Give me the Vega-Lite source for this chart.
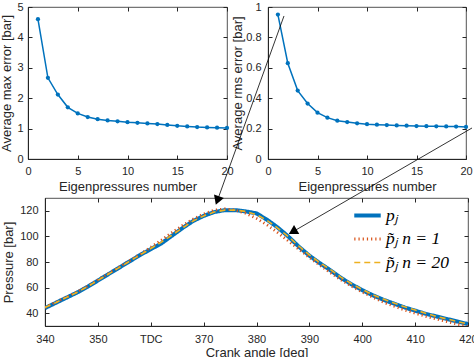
{
  "$schema": "https://vega.github.io/schema/vega-lite/v6.json",
  "background": "white",
  "padding": {"left": 0, "top": 0, "right": 5, "bottom": 2},
  "config": {
    "font": "Liberation Sans",
    "view": {"stroke": "#262626", "strokeWidth": 0.8},
    "axis": {
      "grid": false,
      "domainColor": "#262626",
      "tickColor": "#262626",
      "labelColor": "#262626",
      "titleColor": "#262626",
      "labelFont": "Liberation Sans",
      "titleFont": "Liberation Sans",
      "labelFontSize": 11,
      "titleFontSize": 13,
      "titleFontWeight": "normal",
      "tickSize": -4,
      "tickCount": 20,
      "labelPadding": 10,
      "titlePadding": 3,
      "labelOverlap": false,
      "labelFlush": false
    }
  },
  "datasets": {
    "errs": [
      {"n": 1, "maxerr": 4.6, "rmserr": 0.95},
      {"n": 2, "maxerr": 2.67, "rmserr": 0.63},
      {"n": 3, "maxerr": 2.12, "rmserr": 0.45},
      {"n": 4, "maxerr": 1.7, "rmserr": 0.365},
      {"n": 5, "maxerr": 1.5, "rmserr": 0.305},
      {"n": 6, "maxerr": 1.38, "rmserr": 0.272},
      {"n": 7, "maxerr": 1.31, "rmserr": 0.252},
      {"n": 8, "maxerr": 1.27, "rmserr": 0.243},
      {"n": 9, "maxerr": 1.24, "rmserr": 0.235},
      {"n": 10, "maxerr": 1.21, "rmserr": 0.229},
      {"n": 11, "maxerr": 1.19, "rmserr": 0.226},
      {"n": 12, "maxerr": 1.17, "rmserr": 0.223},
      {"n": 13, "maxerr": 1.15, "rmserr": 0.221},
      {"n": 14, "maxerr": 1.12, "rmserr": 0.219},
      {"n": 15, "maxerr": 1.09, "rmserr": 0.217},
      {"n": 16, "maxerr": 1.07, "rmserr": 0.216},
      {"n": 17, "maxerr": 1.05, "rmserr": 0.215},
      {"n": 18, "maxerr": 1.04, "rmserr": 0.214},
      {"n": 19, "maxerr": 1.03, "rmserr": 0.213},
      {"n": 20, "maxerr": 1.02, "rmserr": 0.211}
    ],
    "pressure": [
      {"angle": 340, "series": "p", "p": 44},
      {"angle": 342, "series": "p", "p": 48},
      {"angle": 344, "series": "p", "p": 52},
      {"angle": 346, "series": "p", "p": 56},
      {"angle": 348, "series": "p", "p": 60.5},
      {"angle": 350, "series": "p", "p": 65.5},
      {"angle": 352, "series": "p", "p": 70.5},
      {"angle": 354, "series": "p", "p": 75.5},
      {"angle": 356, "series": "p", "p": 80.5},
      {"angle": 358, "series": "p", "p": 85.5},
      {"angle": 360, "series": "p", "p": 90},
      {"angle": 362, "series": "p", "p": 94.5},
      {"angle": 364, "series": "p", "p": 100.5},
      {"angle": 366, "series": "p", "p": 106.5},
      {"angle": 368, "series": "p", "p": 112},
      {"angle": 370, "series": "p", "p": 116},
      {"angle": 372, "series": "p", "p": 119},
      {"angle": 374, "series": "p", "p": 120.5},
      {"angle": 376, "series": "p", "p": 120.5},
      {"angle": 378, "series": "p", "p": 119.5},
      {"angle": 380, "series": "p", "p": 118},
      {"angle": 382, "series": "p", "p": 113},
      {"angle": 384, "series": "p", "p": 107},
      {"angle": 386, "series": "p", "p": 100},
      {"angle": 388, "series": "p", "p": 92},
      {"angle": 390, "series": "p", "p": 85},
      {"angle": 392, "series": "p", "p": 79},
      {"angle": 394, "series": "p", "p": 73.5},
      {"angle": 396, "series": "p", "p": 67.5},
      {"angle": 398, "series": "p", "p": 62.5},
      {"angle": 400, "series": "p", "p": 58},
      {"angle": 402, "series": "p", "p": 54},
      {"angle": 404, "series": "p", "p": 50.5},
      {"angle": 406, "series": "p", "p": 47.5},
      {"angle": 408, "series": "p", "p": 44.5},
      {"angle": 410, "series": "p", "p": 42},
      {"angle": 412, "series": "p", "p": 39.5},
      {"angle": 414, "series": "p", "p": 37.5},
      {"angle": 416, "series": "p", "p": 35.5},
      {"angle": 418, "series": "p", "p": 33.5},
      {"angle": 420, "series": "p", "p": 31.5},
      {"angle": 340, "series": "n1", "p": 44.5},
      {"angle": 342, "series": "n1", "p": 48.5},
      {"angle": 344, "series": "n1", "p": 52.5},
      {"angle": 346, "series": "n1", "p": 56.5},
      {"angle": 348, "series": "n1", "p": 61},
      {"angle": 350, "series": "n1", "p": 66},
      {"angle": 352, "series": "n1", "p": 71},
      {"angle": 354, "series": "n1", "p": 76},
      {"angle": 356, "series": "n1", "p": 81},
      {"angle": 358, "series": "n1", "p": 86},
      {"angle": 360, "series": "n1", "p": 91.5},
      {"angle": 362, "series": "n1", "p": 97},
      {"angle": 364, "series": "n1", "p": 103},
      {"angle": 366, "series": "n1", "p": 108.5},
      {"angle": 368, "series": "n1", "p": 113.5},
      {"angle": 370, "series": "n1", "p": 117.5},
      {"angle": 372, "series": "n1", "p": 120.5},
      {"angle": 374, "series": "n1", "p": 121.5},
      {"angle": 376, "series": "n1", "p": 120.5},
      {"angle": 378, "series": "n1", "p": 118},
      {"angle": 380, "series": "n1", "p": 114},
      {"angle": 382, "series": "n1", "p": 109},
      {"angle": 384, "series": "n1", "p": 103},
      {"angle": 386, "series": "n1", "p": 96.5},
      {"angle": 388, "series": "n1", "p": 90},
      {"angle": 390, "series": "n1", "p": 83.5},
      {"angle": 392, "series": "n1", "p": 77.5},
      {"angle": 394, "series": "n1", "p": 71.5},
      {"angle": 396, "series": "n1", "p": 66},
      {"angle": 398, "series": "n1", "p": 61},
      {"angle": 400, "series": "n1", "p": 56.5},
      {"angle": 402, "series": "n1", "p": 52.5},
      {"angle": 404, "series": "n1", "p": 48.5},
      {"angle": 406, "series": "n1", "p": 45.5},
      {"angle": 408, "series": "n1", "p": 42.5},
      {"angle": 410, "series": "n1", "p": 40},
      {"angle": 412, "series": "n1", "p": 37.5},
      {"angle": 414, "series": "n1", "p": 35.5},
      {"angle": 416, "series": "n1", "p": 33.5},
      {"angle": 418, "series": "n1", "p": 31.5},
      {"angle": 420, "series": "n1", "p": 29.5},
      {"angle": 340, "series": "n20", "p": 44.5},
      {"angle": 342, "series": "n20", "p": 48.2},
      {"angle": 344, "series": "n20", "p": 52.2},
      {"angle": 346, "series": "n20", "p": 56.2},
      {"angle": 348, "series": "n20", "p": 60.7},
      {"angle": 350, "series": "n20", "p": 65.6},
      {"angle": 352, "series": "n20", "p": 70.6},
      {"angle": 354, "series": "n20", "p": 75.6},
      {"angle": 356, "series": "n20", "p": 80.6},
      {"angle": 358, "series": "n20", "p": 85.6},
      {"angle": 360, "series": "n20", "p": 90.5},
      {"angle": 362, "series": "n20", "p": 95.5},
      {"angle": 364, "series": "n20", "p": 101},
      {"angle": 366, "series": "n20", "p": 106.5},
      {"angle": 368, "series": "n20", "p": 112},
      {"angle": 370, "series": "n20", "p": 116},
      {"angle": 372, "series": "n20", "p": 119},
      {"angle": 374, "series": "n20", "p": 120.5},
      {"angle": 376, "series": "n20", "p": 120.5},
      {"angle": 378, "series": "n20", "p": 119.5},
      {"angle": 380, "series": "n20", "p": 117},
      {"angle": 382, "series": "n20", "p": 112.5},
      {"angle": 384, "series": "n20", "p": 106.5},
      {"angle": 386, "series": "n20", "p": 100},
      {"angle": 388, "series": "n20", "p": 92.5},
      {"angle": 390, "series": "n20", "p": 85.5},
      {"angle": 392, "series": "n20", "p": 79.5},
      {"angle": 394, "series": "n20", "p": 74},
      {"angle": 396, "series": "n20", "p": 68},
      {"angle": 398, "series": "n20", "p": 63},
      {"angle": 400, "series": "n20", "p": 58.5},
      {"angle": 402, "series": "n20", "p": 54.5},
      {"angle": 404, "series": "n20", "p": 51},
      {"angle": 406, "series": "n20", "p": 48},
      {"angle": 408, "series": "n20", "p": 45},
      {"angle": 410, "series": "n20", "p": 42.5},
      {"angle": 412, "series": "n20", "p": 40},
      {"angle": 414, "series": "n20", "p": 37.5},
      {"angle": 416, "series": "n20", "p": 35.5},
      {"angle": 418, "series": "n20", "p": 33.5},
      {"angle": 420, "series": "n20", "p": 31.5}
    ],
    "arrows": [
      {"arrow": "a1", "x0": 385.2, "y0": 272.2, "x1": 372.7, "y1": 129.2},
      {"arrow": "a2", "x0": 420.76, "y0": 184.7, "x1": 387.1, "y1": 104.2}
    ]
  },
  "concat": [
    {
      "spacing": -3,
      "hconcat": [
        {
          "width": 199,
          "height": 152,
          "data": {"name": "errs"},
          "resolve": {"axis": {"x": "independent", "y": "independent"}},
          "layer": [
            {"mark": {"type": "line", "color": "#0072BD", "strokeWidth": 1.5}, "encoding": {
              "x": {"field": "n", "type": "quantitative", "scale": {"domain": [0, 20]}, "axis": {"values": [0, 5, 10, 15, 20], "title": "Eigenpressures number", "titlePadding": 4}},
              "y": {"field": "maxerr", "type": "quantitative", "scale": {"domain": [0, 5]}, "axis": {"values": [0, 1, 2, 3, 4, 5], "format": "~g", "title": "Average max error [bar]", "labelPadding": 9}}
            }},
            {"mark": {"type": "point", "filled": true, "color": "#0072BD", "size": 18, "opacity": 1}, "encoding": {
              "x": {"field": "n", "type": "quantitative", "axis": {"orient": "top", "values": [0, 5, 10, 15, 20], "labels": false, "domain": false, "title": null}},
              "y": {"field": "maxerr", "type": "quantitative", "axis": {"orient": "right", "values": [0, 1, 2, 3, 4, 5], "labels": false, "domain": false, "title": null}}
            }}
          ]
        },
        {
          "width": 198,
          "height": 152,
          "data": {"name": "errs"},
          "resolve": {"axis": {"x": "independent", "y": "independent"}},
          "layer": [
            {"mark": {"type": "line", "color": "#0072BD", "strokeWidth": 1.5}, "encoding": {
              "x": {"field": "n", "type": "quantitative", "scale": {"domain": [0, 20]}, "axis": {"values": [0, 5, 10, 15, 20], "title": "Eigenpressures number", "titlePadding": 4}},
              "y": {"field": "rmserr", "type": "quantitative", "scale": {"domain": [0, 1]}, "axis": {"values": [0, 0.2, 0.4, 0.6, 0.8, 1], "format": "~g", "title": "Average rms error [bar]", "labelPadding": 11, "titlePadding": 1}}
            }},
            {"mark": {"type": "point", "filled": true, "color": "#0072BD", "size": 18, "opacity": 1}, "encoding": {
              "x": {"field": "n", "type": "quantitative", "axis": {"orient": "top", "values": [0, 5, 10, 15, 20], "labels": false, "domain": false, "title": null}},
              "y": {"field": "rmserr", "type": "quantitative", "axis": {"orient": "right", "values": [0, 0.2, 0.4, 0.6, 0.8, 1], "labels": false, "domain": false, "title": null}}
            }}
          ]
        }
      ]
    },
    {
      "spacing": -30,
      "hconcat": [
        {
          "width": 1,
          "height": 128,
          "view": {"stroke": null},
          "data": {"values": [{}]},
          "mark": {"type": "point", "opacity": 0}
        },
        {
          "width": 423,
          "height": 128,
          "resolve": {"axis": {"x": "independent", "y": "independent"}},
          "layer": [
            {
              "data": {"name": "pressure"},
              "mark": {"type": "line", "clip": true},
              "encoding": {
                "x": {"field": "angle", "type": "quantitative", "scale": {"domain": [340, 420]}, "axis": {"values": [340, 350, 360, 370, 380, 390, 400, 410, 420], "labelExpr": "datum.value == 360 ? 'TDC' : datum.label", "title": "Crank angle [deg]", "labelPadding": 11, "titlePadding": 2}},
                "y": {"field": "p", "type": "quantitative", "scale": {"domain": [30, 130]}, "axis": {"values": [40, 60, 80, 100, 120], "title": "Pressure [bar]", "labelPadding": 11, "titlePadding": 4}},
                "color": {"field": "series", "type": "nominal", "scale": {"domain": ["p", "n1", "n20"], "range": ["#0072BD", "#D95319", "#EDB120"]}, "legend": {
                  "title": null, "orient": "none", "legendX": 324, "legendY": 193, "symbolType": "stroke", "symbolSize": 700, "labelFont": "Liberation Serif", "labelFontStyle": "italic", "labelFontSize": 17.5, "labelColor": "#000000", "rowPadding": 0, "labelOffset": 3,
                  "labelExpr": "datum.value == 'p' ? 'pⱼ' : datum.value == 'n1' ? 'p̃ⱼ  n = 1' : 'p̃ⱼ  n = 20'"}},
                "strokeDash": {"field": "series", "type": "nominal", "scale": {"domain": ["p", "n1", "n20"], "range": [[1, 0], [1.2, 3], [6, 4]]}, "legend": null},
                "strokeWidth": {"field": "series", "type": "nominal", "scale": {"domain": ["p", "n1", "n20"], "range": [4, 1.6, 2.5]}, "legend": null}
              }
            },
            {
              "data": {"name": "pressure"},
              "mark": {"type": "point", "opacity": 0},
              "encoding": {
                "x": {"field": "angle", "type": "quantitative", "axis": {"orient": "top", "values": [340, 350, 360, 370, 380, 390, 400, 410, 420], "labels": false, "domain": false, "title": null}},
                "y": {"field": "p", "type": "quantitative", "axis": {"orient": "right", "values": [40, 60, 80, 100, 120], "labels": false, "domain": false, "title": null}}
              }
            },
            {
              "data": {"name": "arrows"},
              "mark": {"type": "rule", "color": "#000000", "strokeWidth": 0.8, "clip": false},
              "encoding": {
                "x": {"field": "x0", "type": "quantitative", "axis": null},
                "y": {"field": "y0", "type": "quantitative", "axis": null},
                "x2": {"field": "x1"},
                "y2": {"field": "y1"}
              }
            },
            {
              "data": {"name": "arrows"},
              "transform": [{"filter": "datum.arrow == 'a1'"}],
              "mark": {"type": "point", "shape": "triangle", "filled": true, "color": "#000000", "size": 110, "angle": 200, "opacity": 1, "clip": false},
              "encoding": {
                "x": {"field": "x1", "type": "quantitative", "axis": null},
                "y": {"field": "y1", "type": "quantitative", "axis": null}
              }
            },
            {
              "data": {"name": "arrows"},
              "transform": [{"filter": "datum.arrow == 'a2'"}],
              "mark": {"type": "point", "shape": "triangle", "filled": true, "color": "#000000", "size": 110, "angle": 240, "opacity": 1, "clip": false},
              "encoding": {
                "x": {"field": "x1", "type": "quantitative", "axis": null},
                "y": {"field": "y1", "type": "quantitative", "axis": null}
              }
            }
          ]
        }
      ]
    }
  ],
  "columns": 1,
  "align": "none",
  "spacing": -179
}
